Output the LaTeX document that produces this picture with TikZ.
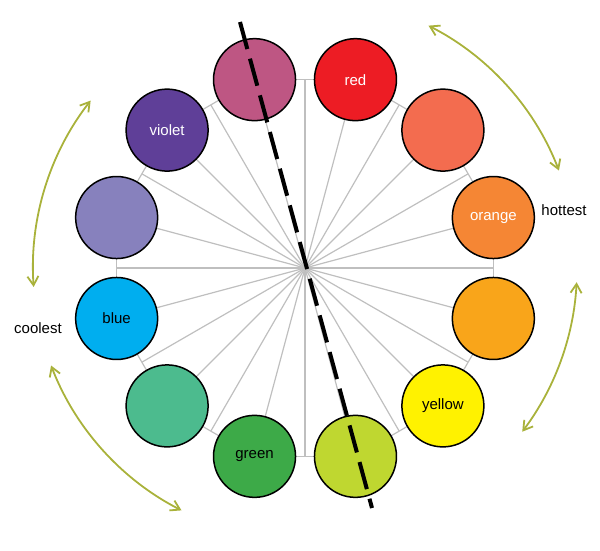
\documentclass[tikz,border=0pt]{standalone}
\usepackage{fontspec}
\setmainfont{Liberation Sans}
\usetikzlibrary{arrows.meta,calc}
\definecolor{c1}{HTML}{ED1C24}\definecolor{c2}{HTML}{F36C4F}\definecolor{c3}{HTML}{F58634}
\definecolor{c4}{HTML}{F9A51A}\definecolor{c5}{HTML}{FFF200}\definecolor{c6}{HTML}{BFD730}
\definecolor{c7}{HTML}{3DAA48}\definecolor{c8}{HTML}{4CBB8E}\definecolor{c9}{HTML}{00AEEF}
\definecolor{c10}{HTML}{8781BD}\definecolor{c11}{HTML}{5F3F98}\definecolor{c12}{HTML}{BE5683}
\definecolor{olive}{HTML}{A9B23B}
\begin{document}
\begin{tikzpicture}[x=1pt,y=-1pt,
  dot/.style={circle,draw=black,line width=1.5pt,minimum size=82pt,inner sep=0pt,font=\fontsize{15}{18}\selectfont},
  spoke/.style={draw=black!25,line width=1.2pt},
  temp/.style={draw=olive,line width=1.8pt,{Straight Barb[length=9pt,width=11pt]}-{Straight Barb[length=9pt,width=11pt]}},
  lbl/.style={font=\fontsize{15}{18}\selectfont}]
\useasboundingbox (0,0) rectangle (600,550);
\coordinate (o) at (305,268);
\foreach \i in {1,...,12}{
  \pgfmathsetmacro\a{15+30*(\i-1)}
  \coordinate (p\i) at ($(o)+({195*sin(\a)},{-195*cos(\a)})$);
}
\foreach \i [evaluate=\i as \j using {int(mod(\i,12)+1)}] in {1,...,12}{
  \draw[spoke] (p\i) -- (p\j);
  \draw[spoke] (o) -- ($(p\i)!0.5!(p\j)$);
  \draw[spoke] (o) -- (p\i);
}
\node[dot,fill=c1,text=white] (n1) at (p1) {red};
\node[dot,fill=c2] (n2) at (p2) {};
\node[dot,fill=c3,text=white] (n3) at (p3) {orange};
\node[dot,fill=c4] (n4) at (p4) {};
\node[dot,fill=c5] (n5) at (p5) {yellow};
\node[dot,fill=c6] (n6) at (p6) {};
\node[dot,fill=c7] (n7) at (p7) {green};
\node[dot,fill=c8] (n8) at (p8) {};
\node[dot,fill=c9] (n9) at (p9) {blue};
\node[dot,fill=c10] (n10) at (p10) {};
\node[dot,fill=c11,text=white] (n11) at (p11) {violet};
\node[dot,fill=c12] (n12) at (p12) {};
\coordinate (d1) at (240,22);
\coordinate (d2) at (372,508);
\draw[line width=4pt,dash pattern=on 28pt off 10pt] (d1) -- (d2);
\node[lbl] (hot) at (564,210) {hottest};
\node[lbl] (cool) at (38,328) {coolest};
\draw[temp] ($(o)+(-63:272)$) arc[start angle=-63,end angle=-21,radius=272];
\draw[temp] ($(o)+(3:272)$) arc[start angle=3,end angle=37,radius=272];
\draw[temp] ($(o)+(-142:272)$) arc[start angle=-142,end angle=-184,radius=272];
\draw[temp] ($(o)+(-201:272)$) arc[start angle=-201,end angle=-243,radius=272];
\end{tikzpicture}
\end{document}
